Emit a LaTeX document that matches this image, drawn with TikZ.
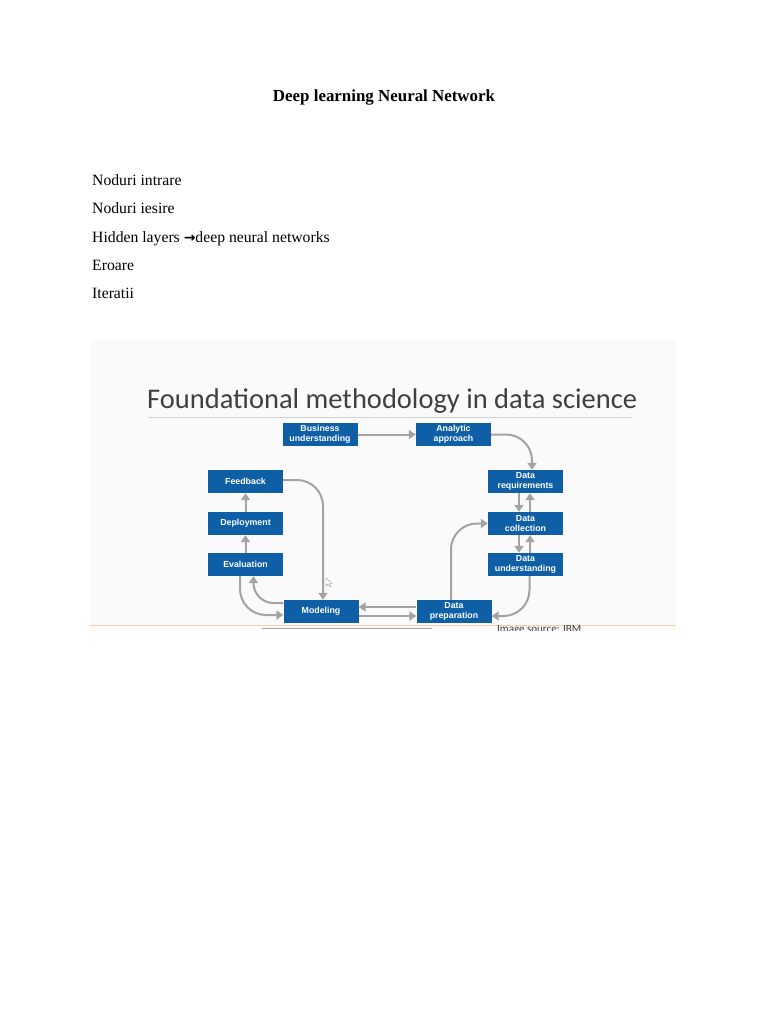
\documentclass[tikz,border=0pt]{standalone}
\usepackage{fontspec}
\setmainfont{Liberation Serif}
\newfontfamily\arialf{Liberation Sans}
\newfontfamily\calib{Carlito}
\newfontfamily\dejavu{DejaVu Sans}
\usetikzlibrary{arrows.meta}
\definecolor{ibmblue}{HTML}{0E5FA6}
\definecolor{linegray}{HTML}{A3A3A3}
\definecolor{imgbg}{HTML}{FAFAFA}
\definecolor{orangeline}{HTML}{F5D3AA}
\definecolor{titlegray}{HTML}{3F3F3F}
\begin{document}
\begin{tikzpicture}[x=1pt,y=-1pt,
  box/.style={fill=ibmblue, text=white, minimum width=75pt, minimum height=23pt, inner sep=0pt, align=center, font=\arialf\bfseries\fontsize{8.8}{10}\selectfont},
  conn/.style={draw=linegray, line width=2pt, -{Triangle[length=7pt,width=9pt]}},
  para/.style={anchor=base west, font=\fontsize{15.7}{18}\selectfont, inner sep=0pt}]
\useasboundingbox[fill=white] (0,0) rectangle (768,1024);

% document text
\node[anchor=base, font=\bfseries\fontsize{16.9}{19}\selectfont, inner sep=0pt] (title) at (384,102) {Deep learning Neural Network};
\node[para] (l1) at (92,186) {Noduri intrare};
\node[para] (l2) at (92,214) {Noduri iesire};
\node[para] (l3) at (92,242) {Hidden layers {\dejavu\fontsize{14}{15}\selectfont\bfseries →}deep neural networks};
\node[para] (l4) at (92,270) {Eroare};
\node[para] (l5) at (92,298) {Iteratii};

% embedded image
\begin{scope}
\clip (90,340) rectangle (676,630);
\fill[imgbg] (90,340) rectangle (676,630);
\node[anchor=base west, inner sep=0pt, text=titlegray, font=\calib\fontsize{28.5}{32}\selectfont] (ftitle) at (147,408) {Foundational methodology in data science};
\draw[draw=gray!35, line width=0.8pt] (148,417) -- (632,417);
\draw[orangeline, line width=1pt] (90,625) -- (676,625);
\draw[gray!70, line width=1.5pt] (262,628.5) -- (432,628.5);
\node[anchor=base west, inner sep=0pt, text=titlegray, font=\calib\fontsize{11}{13}\selectfont] (src) at (497,632) {Image source: IBM};

\node[box] (bu) at (320,434.5) {Business\\understanding};
\node[box] (aa) at (453.5,434.5) {Analytic\\approach};
\node[box] (fb) at (245.5,481.5) {Feedback};
\node[box] (dr) at (525.5,481.5) {Data\\requirements};
\node[box] (dep) at (245.5,523.5) {Deployment};
\node[box] (dc) at (525.5,523.5) {Data\\collection};
\node[box] (ev) at (245.5,564.5) {Evaluation};
\node[box] (du) at (525.5,564.5) {Data\\understanding};
\node[box] (mo) at (321,611.5) {Modeling};
\node[box] (dp) at (454,611.5) {Data\\preparation};

\draw[conn] (bu) -- (aa);
\draw[conn, rounded corners=26pt] (aa.east) -| ([xshift=6.5pt]dr.north);
\draw[conn] ([xshift=-6.5pt]dr.south) -- ([xshift=-6.5pt]dc.north);
\draw[conn] ([xshift=4.5pt]dc.north) -- ([xshift=4.5pt]dr.south);
\draw[conn] ([xshift=-6.5pt]dc.south) -- ([xshift=-6.5pt]du.north);
\draw[conn] ([xshift=4.5pt]du.north) -- ([xshift=4.5pt]dc.south);
\draw[conn, rounded corners=26pt] ([xshift=4pt]du.south) |- ([yshift=-4.5pt]dp.east);
\draw[conn, rounded corners=26pt] ([xshift=-3pt]dp.north) |- (dc.west);
\draw[conn] ([yshift=4.5pt]dp.west) -- ([yshift=4.5pt]mo.east);
\draw[conn] ([yshift=-4.5pt]mo.east) -- ([yshift=-4.5pt]dp.west);
\draw[conn, rounded corners=20pt] ([yshift=8.5pt]mo.west) -| ([xshift=8pt]ev.south);
\draw[conn, rounded corners=26pt] ([xshift=-5.5pt]ev.south) |- ([yshift=-3.5pt]mo.west);
\draw[conn] (ev) -- (dep);
\draw[conn] (dep) -- (fb);
\draw[conn, rounded corners=26pt] ([yshift=1.5pt]fb.east) -| ([xshift=2pt]mo.north);

% mouse cursor
\draw[gray!80, fill=white, line width=0.4pt] (326,578) -- (326,586) -- (328,584) -- (330,587) -- (331,586.5) -- (329.5,583.5) -- (332,583.5) -- cycle;
\end{scope}
\end{tikzpicture}
\end{document}
